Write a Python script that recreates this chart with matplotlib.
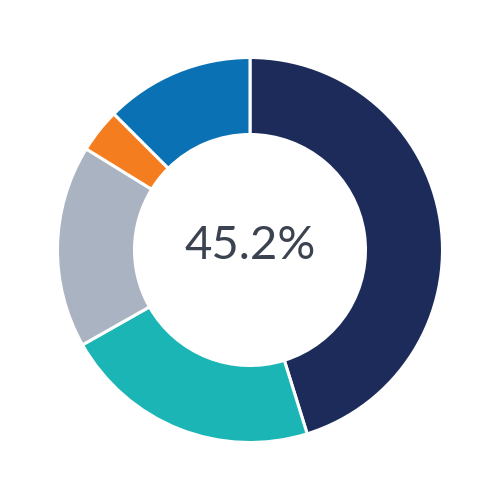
import matplotlib.pyplot as plt

shares = [45.2, 21.6, 17.0, 3.7, 12.5]
colors = ["#1c2b5a", "#1bb5b5", "#a9b3c1", "#f47d20", "#0a72b4"]
center_label = "45.2%"

fig = plt.figure(figsize=(5, 5), dpi=100)
ax = fig.add_axes([0, 0, 1, 1])
ax.pie(shares, colors=colors, startangle=90, counterclock=False, radius=1.0,
       wedgeprops=dict(width=0.4, edgecolor="white", linewidth=2.2))
ax.text(0, 0.02, center_label, ha="center", va="center", fontsize=34,
        color="#3b4350", family=["Lato", "DejaVu Sans"])
lim = 250 / 192.5
ax.set_xlim(-lim, lim)
ax.set_ylim(-lim, lim)
ax.set_aspect("equal")
ax.axis("off")
fig.savefig("out.png", dpi=100, facecolor="white")
